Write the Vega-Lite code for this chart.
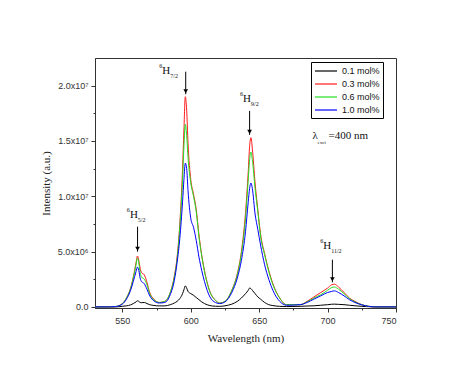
{
  "$schema": "https://vega.github.io/schema/vega-lite/v6.json",
  "width": 301,
  "height": 250,
  "autosize": {"type": "none"},
  "padding": {"left": 95, "top": 58, "right": 78, "bottom": 64},
  "background": "white",
  "config": {
    "view": {"stroke": "#333333", "strokeWidth": 1},
    "axis": {
      "grid": false,
      "labelFont": "Liberation Sans",
      "labelFontSize": 9,
      "labelColor": "#333333",
      "titleFont": "Liberation Serif",
      "titleFontSize": 11,
      "titleFontWeight": "normal",
      "titleColor": "#222222",
      "domainColor": "#333333",
      "tickColor": "#333333"
    }
  },
  "datasets": {
    "spec": [
      {"w": 530, "s01": 0, "s03": 0, "s06": 0, "s10": 0},
      {"w": 540, "s01": 0, "s03": 0, "s06": 0, "s10": 0},
      {"w": 545, "s01": 0, "s03": 3e4, "s06": 3e4, "s10": 3e4},
      {"w": 550, "s01": 5e4, "s03": 3e5, "s06": 3e5, "s10": 2.5e5},
      {"w": 553, "s01": 1e5, "s03": 8e5, "s06": 8e5, "s10": 7e5},
      {"w": 556, "s01": 1.8e5, "s03": 1.7e6, "s06": 1.65e6, "s10": 1.5e6},
      {"w": 558, "s01": 3e5, "s03": 2.7e6, "s06": 2.6e6, "s10": 2.3e6},
      {"w": 560, "s01": 4.5e5, "s03": 4.0e6, "s06": 3.8e6, "s10": 3.2e6},
      {"w": 561, "s01": 5.5e5, "s03": 4.6e6, "s06": 4.4e6, "s10": 3.6e6},
      {"w": 562, "s01": 5e5, "s03": 4.2e6, "s06": 4.0e6, "s10": 3.3e6},
      {"w": 563, "s01": 4e5, "s03": 3.5e6, "s06": 3.1e6, "s10": 2.6e6},
      {"w": 564, "s01": 3.8e5, "s03": 3.1e6, "s06": 2.7e6, "s10": 2.3e6},
      {"w": 566, "s01": 4e5, "s03": 2.9e6, "s06": 2.5e6, "s10": 2.1e6},
      {"w": 568, "s01": 3e5, "s03": 2.2e6, "s06": 2.0e6, "s10": 1.6e6},
      {"w": 570, "s01": 2e5, "s03": 1.3e6, "s06": 1.2e6, "s10": 1.0e6},
      {"w": 573, "s01": 1.3e5, "s03": 7e5, "s06": 6.5e5, "s10": 5.5e5},
      {"w": 577, "s01": 9e4, "s03": 4e5, "s06": 4e5, "s10": 3.5e5},
      {"w": 581, "s01": 9e4, "s03": 5e5, "s06": 5e5, "s10": 4e5},
      {"w": 585, "s01": 2e5, "s03": 1.3e6, "s06": 1.3e6, "s10": 1.1e6},
      {"w": 588, "s01": 3.5e5, "s03": 2.8e6, "s06": 2.7e6, "s10": 2.4e6},
      {"w": 590, "s01": 5e5, "s03": 4.5e6, "s06": 4.3e6, "s10": 4.0e6},
      {"w": 592, "s01": 7.5e5, "s03": 7.5e6, "s06": 7.2e6, "s10": 6.2e6},
      {"w": 594, "s01": 1.2e6, "s03": 1.25e7, "s06": 1.15e7, "s10": 9.5e6},
      {"w": 595, "s01": 1.55e6, "s03": 1.6e7, "s06": 1.45e7, "s10": 1.15e7},
      {"w": 596, "s01": 1.9e6, "s03": 1.9e7, "s06": 1.65e7, "s10": 1.3e7},
      {"w": 597, "s01": 1.7e6, "s03": 1.78e7, "s06": 1.55e7, "s10": 1.25e7},
      {"w": 598, "s01": 1.4e6, "s03": 1.48e7, "s06": 1.35e7, "s10": 1.05e7},
      {"w": 600, "s01": 1.2e6, "s03": 1.15e7, "s06": 1.12e7, "s10": 8.0e6},
      {"w": 602, "s01": 1.05e6, "s03": 1.02e7, "s06": 1.0e7, "s10": 7.2e6},
      {"w": 604, "s01": 8.5e5, "s03": 8.8e6, "s06": 8.6e6, "s10": 6.0e6},
      {"w": 606, "s01": 6.5e5, "s03": 6.5e6, "s06": 6.3e6, "s10": 4.5e6},
      {"w": 608, "s01": 4.5e5, "s03": 4.7e6, "s06": 4.6e6, "s10": 3.3e6},
      {"w": 610, "s01": 3e5, "s03": 3.3e6, "s06": 3.2e6, "s10": 2.3e6},
      {"w": 614, "s01": 1.2e5, "s03": 1.4e6, "s06": 1.35e6, "s10": 9e5},
      {"w": 618, "s01": 6e4, "s03": 6e5, "s06": 6e5, "s10": 4e5},
      {"w": 621, "s01": 5e4, "s03": 3.5e5, "s06": 3.5e5, "s10": 3e5},
      {"w": 625, "s01": 1e5, "s03": 5e5, "s06": 5e5, "s10": 4.5e5},
      {"w": 630, "s01": 2.5e5, "s03": 1.5e6, "s06": 1.5e6, "s10": 1.3e6},
      {"w": 634, "s01": 5e5, "s03": 3.0e6, "s06": 2.9e6, "s10": 2.6e6},
      {"w": 637, "s01": 8e5, "s03": 5.0e6, "s06": 4.8e6, "s10": 4.2e6},
      {"w": 640, "s01": 1.2e6, "s03": 8.5e6, "s06": 8.0e6, "s10": 6.8e6},
      {"w": 642, "s01": 1.5e6, "s03": 1.22e7, "s06": 1.15e7, "s10": 9.5e6},
      {"w": 643, "s01": 1.7e6, "s03": 1.45e7, "s06": 1.33e7, "s10": 1.07e7},
      {"w": 644, "s01": 1.65e6, "s03": 1.53e7, "s06": 1.4e7, "s10": 1.12e7},
      {"w": 645, "s01": 1.5e6, "s03": 1.43e7, "s06": 1.33e7, "s10": 1.07e7},
      {"w": 647, "s01": 1.2e6, "s03": 1.12e7, "s06": 1.07e7, "s10": 8.4e6},
      {"w": 649, "s01": 9e5, "s03": 8.8e6, "s06": 8.6e6, "s10": 7.0e6},
      {"w": 651, "s01": 7e5, "s03": 6.6e6, "s06": 6.4e6, "s10": 5.6e6},
      {"w": 654, "s01": 4e5, "s03": 4.8e6, "s06": 4.7e6, "s10": 3.8e6},
      {"w": 657, "s01": 2e5, "s03": 3.3e6, "s06": 3.2e6, "s10": 2.5e6},
      {"w": 660, "s01": 1.2e5, "s03": 2.1e6, "s06": 2.0e6, "s10": 1.5e6},
      {"w": 665, "s01": 5e4, "s03": 8e5, "s06": 8e5, "s10": 5e5},
      {"w": 670, "s01": 3e4, "s03": 2e5, "s06": 2e5, "s10": 1.5e5},
      {"w": 680, "s01": 5e4, "s03": 2e5, "s06": 2e5, "s10": 2e5},
      {"w": 685, "s01": 8e4, "s03": 5e5, "s06": 4.5e5, "s10": 4e5},
      {"w": 690, "s01": 1e5, "s03": 9e5, "s06": 8e5, "s10": 7e5},
      {"w": 695, "s01": 1.5e5, "s03": 1.3e6, "s06": 1.1e6, "s10": 1.0e6},
      {"w": 700, "s01": 2e5, "s03": 1.7e6, "s06": 1.5e6, "s10": 1.3e6},
      {"w": 703, "s01": 2.4e5, "s03": 2.0e6, "s06": 1.75e6, "s10": 1.4e6},
      {"w": 705, "s01": 2.5e5, "s03": 2.05e6, "s06": 1.8e6, "s10": 1.45e6},
      {"w": 708, "s01": 2.3e5, "s03": 1.8e6, "s06": 1.6e6, "s10": 1.3e6},
      {"w": 712, "s01": 2e5, "s03": 1.3e6, "s06": 1.2e6, "s10": 1.0e6},
      {"w": 716, "s01": 1.5e5, "s03": 8e5, "s06": 7.5e5, "s10": 6.5e5},
      {"w": 720, "s01": 1e5, "s03": 5e5, "s06": 4.5e5, "s10": 4e5},
      {"w": 725, "s01": 5e4, "s03": 2e5, "s06": 2e5, "s10": 1.8e5},
      {"w": 730, "s01": 2e4, "s03": 5e4, "s06": 5e4, "s10": 5e4},
      {"w": 735, "s01": 0, "s03": 0, "s06": 0, "s10": 0},
      {"w": 750, "s01": 0, "s03": 0, "s06": 0, "s10": 0}
    ],
    "ann": [
      {"x": 558.4, "y": 8.33e6, "sup": "6", "main": "H", "sub": "5/2"},
      {"x": 582.1, "y": 2.133e7, "sup": "6", "main": "H", "sub": "7/2"},
      {"x": 641.1, "y": 1.877e7, "sup": "6", "main": "H", "sub": "9/2"},
      {"x": 699.7, "y": 5.47e6, "sup": "6", "main": "H", "sub": "11/2"}
    ],
    "arrows": [
      {"x": 561.1, "top": 7.25e6, "tip": 4.99e6},
      {"x": 596.3, "top": 2.126e7, "tip": 1.922e7},
      {"x": 643.0, "top": 1.772e7, "tip": 1.555e7},
      {"x": 703.5, "top": 4.27e6, "tip": 2.22e6}
    ],
    "lam": [
      {"x": 689, "y": 1.546e7, "main": "λ", "sub": "exci", "rest": "=400 nm"}
    ]
  },
  "resolve": {"axis": {"x": "independent", "y": "independent"}},
  "layer": [
    {
      "data": {"name": "spec"},
      "transform": [{"fold": ["s01", "s03", "s06", "s10"], "as": ["s", "i"]}],
      "mark": {"type": "line", "strokeWidth": 1, "interpolate": "monotone"},
      "encoding": {
        "x": {
          "field": "w", "type": "quantitative",
          "scale": {"domain": [530, 750], "nice": false, "zero": false},
          "axis": {"orient": "bottom", "values": [550, 600, 650, 700, 750], "title": "Wavelength (nm)", "tickSize": 4, "labelPadding": 4, "titlePadding": 7, "format": "d"}
        },
        "y": {
          "field": "i", "type": "quantitative",
          "scale": {"domain": [-1e5, 2.25e7], "nice": false, "zero": false},
          "axis": {
            "orient": "left",
            "values": [0, 5000000, 10000000, 15000000, 20000000],
            "title": "Intensity (a.u.)", "tickSize": 4, "labelPadding": 3, "titlePadding": 6,
            "labelExpr": "datum.value == 0 ? '0.0' : (datum.value < 10000000 ? format(datum.value / 1000000, '.1f') + 'x10⁶' : format(datum.value / 10000000, '.1f') + 'x10⁷')"
          }
        },
        "color": {
          "field": "s", "type": "nominal",
          "scale": {"domain": ["s01", "s03", "s06", "s10"], "range": ["#000000", "#ff1a1a", "#22dd22", "#0000ff"]},
          "legend": {
            "orient": "none", "legendX": 216, "legendY": 4, "title": null,
            "strokeColor": "#000000", "fillColor": "#ffffff", "padding": 3,
            "symbolType": "M-1,0H3.4", "symbolSize": 100, "symbolStrokeWidth": 1.2,
            "labelFont": "Liberation Sans", "labelFontSize": 9, "labelColor": "#111111",
            "labelOffset": 16, "rowPadding": 2,
            "labelExpr": "datum.label == 's01' ? '0.1 mol%' : datum.label == 's03' ? '0.3 mol%' : datum.label == 's06' ? '0.6 mol%' : '1.0 mol%'",
            "encode": {"symbols": {"update": {"stroke": {"scale": "color", "field": "value"}, "fill": {"value": "transparent"}, "strokeWidth": {"value": 1.2}}}}
          }
        }
      }
    },
    {
      "data": {"name": "arrows"},
      "mark": {"type": "rule", "color": "#000000", "strokeWidth": 1},
      "encoding": {
        "x": {"field": "x", "type": "quantitative",
          "axis": {"orient": "bottom", "values": [575, 625, 675, 725], "labels": false, "domain": false, "tickSize": 2, "title": null}},
        "y": {"field": "top", "type": "quantitative",
          "axis": {"orient": "left", "values": [2500000, 7500000, 12500000, 17500000], "labels": false, "domain": false, "tickSize": 2, "title": null}},
        "y2": {"field": "tip"}
      }
    },
    {
      "data": {"name": "arrows"},
      "mark": {"type": "point", "shape": "triangle-down", "filled": true, "color": "#000000", "size": 22, "opacity": 1, "yOffset": -3},
      "encoding": {
        "x": {"field": "x", "type": "quantitative", "axis": null},
        "y": {"field": "tip", "type": "quantitative", "axis": null}
      }
    },
    {
      "data": {"name": "ann"},
      "mark": {"type": "text", "font": "Liberation Serif", "fontSize": 11, "color": "#111111", "align": "center", "baseline": "middle"},
      "encoding": {
        "x": {"field": "x", "type": "quantitative", "axis": null},
        "y": {"field": "y", "type": "quantitative", "axis": null},
        "text": {"field": "main"}
      }
    },
    {
      "data": {"name": "ann"},
      "mark": {"type": "text", "font": "Liberation Serif", "fontSize": 6, "color": "#111111", "align": "right", "baseline": "middle", "dx": -4, "dy": -5},
      "encoding": {
        "x": {"field": "x", "type": "quantitative", "axis": null},
        "y": {"field": "y", "type": "quantitative", "axis": null},
        "text": {"field": "sup"}
      }
    },
    {
      "data": {"name": "ann"},
      "mark": {"type": "text", "font": "Liberation Serif", "fontSize": 6, "color": "#111111", "align": "left", "baseline": "middle", "dx": 4, "dy": 5},
      "encoding": {
        "x": {"field": "x", "type": "quantitative", "axis": null},
        "y": {"field": "y", "type": "quantitative", "axis": null},
        "text": {"field": "sub"}
      }
    },
    {
      "data": {"name": "lam"},
      "mark": {"type": "text", "font": "Liberation Serif", "fontSize": 11, "color": "#111111", "align": "left", "baseline": "middle"},
      "encoding": {
        "x": {"field": "x", "type": "quantitative", "axis": null},
        "y": {"field": "y", "type": "quantitative", "axis": null},
        "text": {"field": "main"}
      }
    },
    {
      "data": {"name": "lam"},
      "mark": {"type": "text", "font": "Liberation Serif", "fontSize": 5, "color": "#111111", "align": "left", "baseline": "middle", "dx": 5, "dy": 6},
      "encoding": {
        "x": {"field": "x", "type": "quantitative", "axis": null},
        "y": {"field": "y", "type": "quantitative", "axis": null},
        "text": {"field": "sub"}
      }
    },
    {
      "data": {"name": "lam"},
      "mark": {"type": "text", "font": "Liberation Serif", "fontSize": 11, "color": "#111111", "align": "left", "baseline": "middle", "dx": 16},
      "encoding": {
        "x": {"field": "x", "type": "quantitative", "axis": null},
        "y": {"field": "y", "type": "quantitative", "axis": null},
        "text": {"field": "rest"}
      }
    }
  ]
}
